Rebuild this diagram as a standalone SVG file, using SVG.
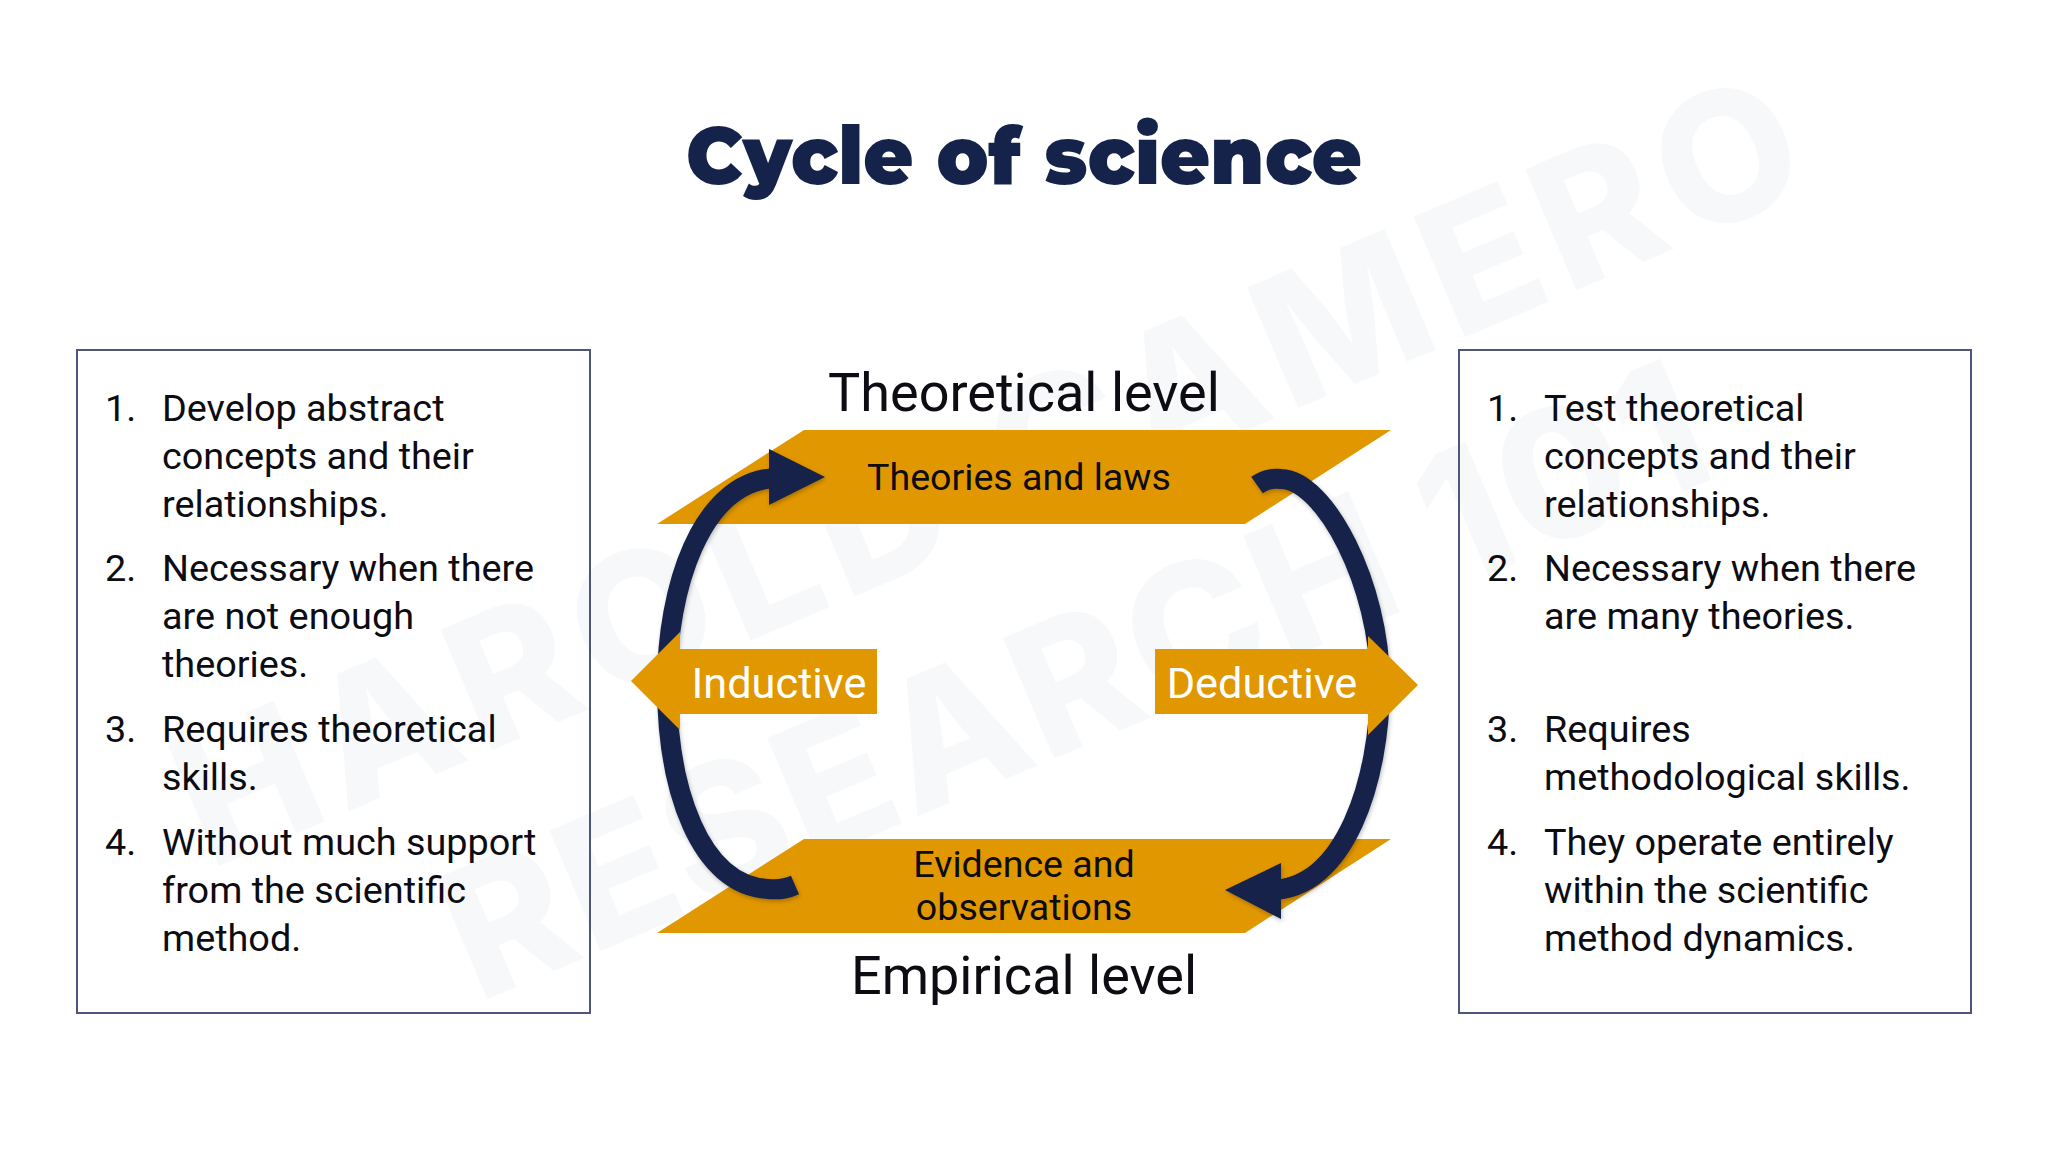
<svg xmlns="http://www.w3.org/2000/svg" width="2048" height="1152" viewBox="0 0 2048 1152">
<defs><filter id="sh" x="-10%" y="-10%" width="120%" height="120%"><feDropShadow dx="1" dy="2" stdDeviation="2" flood-color="#000" flood-opacity="0.25"/></filter></defs>
<style>
.wm{font-family:"Inter","Liberation Sans",sans-serif;font-weight:800;font-size:180px;fill:#f6f8fa}
.box{fill:none;stroke:#50557a;stroke-width:2}
.body{font-family:"Roboto","Liberation Sans",sans-serif;font-size:37.8px;fill:#0c0c12}
.band{fill:#e19700}
.lvl{font-family:"Roboto","Liberation Sans",sans-serif;font-size:54px;fill:#0c0c12;text-anchor:middle}
.mid{font-family:"Roboto","Liberation Sans",sans-serif;font-size:37.6px;fill:#0c0c12;text-anchor:middle}
.dir{font-family:"Roboto","Liberation Sans",sans-serif;font-size:43.3px;fill:#fff;text-anchor:middle}
.arc{fill:none;stroke:#15234a;stroke-width:20}
.head{fill:#15234a}
</style>
<rect width="2048" height="1152" fill="#fff"/>
<g id="watermark">
<text class="wm" transform="translate(210 870) rotate(-23)" textLength="1744" lengthAdjust="spacing">HAROLD CAMERO</text>
<text class="wm" transform="translate(478 1003) rotate(-23)" textLength="1350" lengthAdjust="spacing">RESEARCH 101</text>
</g>
<text id="title" x="686" y="184" font-family="Montserrat,Inter,'Liberation Sans',sans-serif" font-weight="900" font-size="80" fill="#15234a" textLength="676" lengthAdjust="spacingAndGlyphs">Cycle of science</text>
<g id="left-box">
<rect class="box" x="77" y="350" width="513" height="663"/>
<g class="body">
<text x="105" y="421">1.</text><text x="162" y="421">Develop abstract</text><text x="162" y="469">concepts and their</text><text x="162" y="517">relationships.</text>
<text x="105" y="581">2.</text><text x="162" y="581">Necessary when there</text><text x="162" y="629">are not enough</text><text x="162" y="677">theories.</text>
<text x="105" y="742">3.</text><text x="162" y="742">Requires theoretical</text><text x="162" y="790">skills.</text>
<text x="105" y="855">4.</text><text x="162" y="855">Without much support</text><text x="162" y="903">from the scientific</text><text x="162" y="951">method.</text>
</g>
</g>
<g id="right-box">
<rect class="box" x="1459" y="350" width="512" height="663"/>
<g class="body">
<text x="1487" y="421">1.</text><text x="1544" y="421">Test theoretical</text><text x="1544" y="469">concepts and their</text><text x="1544" y="517">relationships.</text>
<text x="1487" y="581">2.</text><text x="1544" y="581">Necessary when there</text><text x="1544" y="629">are many theories.</text>
<text x="1487" y="742">3.</text><text x="1544" y="742">Requires</text><text x="1544" y="790">methodological skills.</text>
<text x="1487" y="855">4.</text><text x="1544" y="855">They operate entirely</text><text x="1544" y="903">within the scientific</text><text x="1544" y="951">method dynamics.</text>
</g>
</g>
<text id="theoretical-level" class="lvl" x="1024" y="411">Theoretical level</text>
<text id="empirical-level" class="lvl" x="1024" y="994">Empirical level</text>
<g id="theories"><polygon class="band" points="804,430 1391,430 1245,524 657,524"/><text class="mid" x="1019" y="490">Theories and laws</text></g>
<g id="evidence"><polygon class="band" points="804,839 1391,839 1245,933 657,933"/><text class="mid" x="1024" y="877">Evidence and</text><text class="mid" x="1024" y="920">observations</text></g>
<g id="connectors" filter="url(#sh)">
<path class="arc" d="M795 885C786 889 777 890 768 889C700 885 667 790 667 684C667 590 700 482 775 478"/>
<polygon class="head" points="769,449 825,477 769,505"/>
<path class="arc" d="M1257 485C1264 480 1272 478 1281 479C1325 480 1380 585 1380 684C1380 780 1345 890 1270 890"/>
<polygon class="head" points="1281,863 1225,890 1281,919"/>
</g>
<g id="inductive"><polygon class="band" points="631,681 680,632 680,649 877,649 877,714 680,714 680,730"/><text class="dir" x="779" y="698">Inductive</text></g>
<g id="deductive"><polygon class="band" points="1418,685 1368,636 1368,649 1155,649 1155,714 1368,714 1368,735"/><text class="dir" x="1262" y="698">Deductive</text></g>
</svg>
